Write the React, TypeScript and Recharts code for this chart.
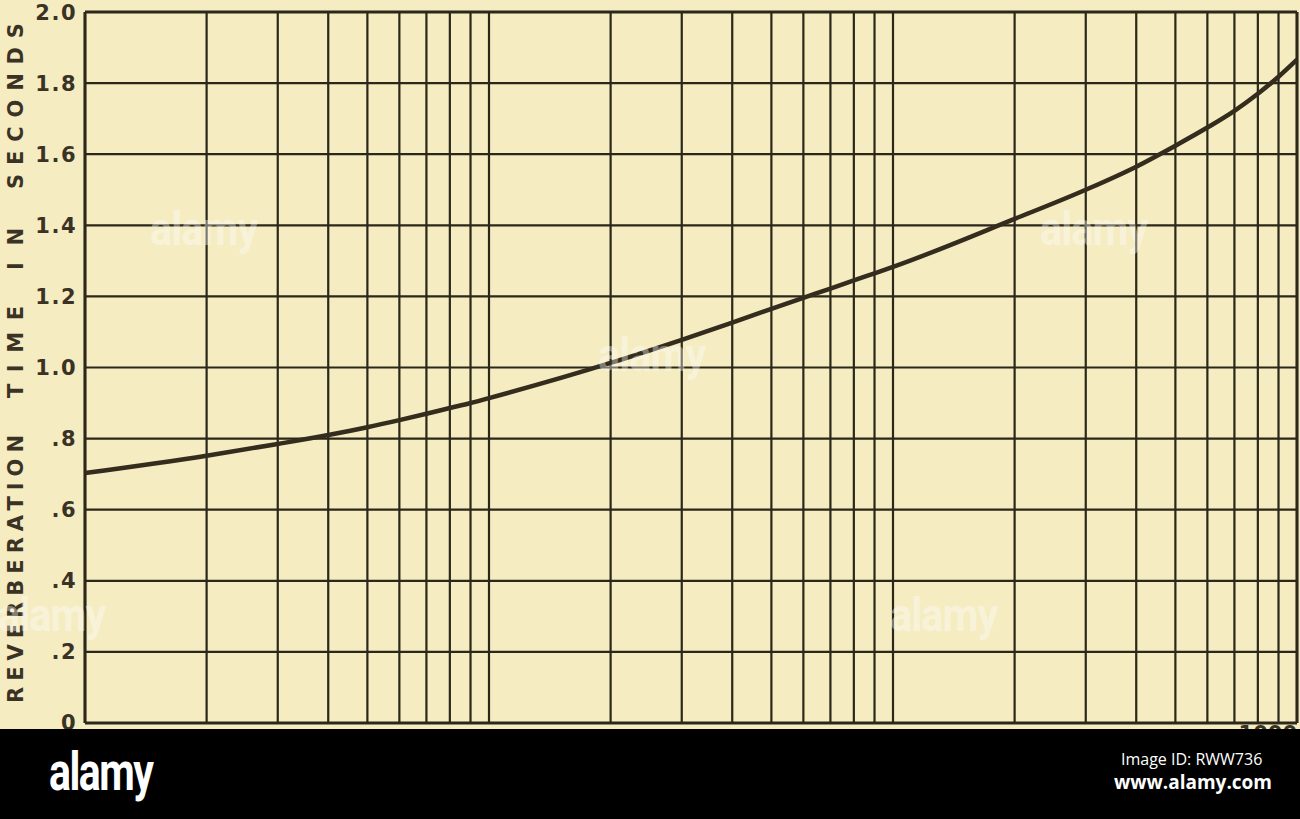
import { LineChart, Line, XAxis, YAxis, CartesianGrid, ReferenceLine } from 'recharts'

// room volume (log scale) vs reverberation time
const volumes = [1, 2, 3, 4, 5, 6, 7, 8, 9, 10, 20, 30, 40, 50, 60, 70, 80, 90, 100, 200, 300, 400, 500, 600, 700, 800, 900, 1000]
const reverbTimes = [
  0.703, 0.752, 0.785, 0.81, 0.832, 0.852, 0.87, 0.886, 0.9, 0.914,
  1.013, 1.078, 1.126, 1.165, 1.196, 1.222, 1.245, 1.265, 1.283,
  1.418, 1.5, 1.565, 1.624, 1.675, 1.722, 1.77, 1.818, 1.866,
]

const gridTicks = [1, 2, 3, 4, 5, 6, 7, 8, 9, 10, 20, 30, 40, 50, 60, 70, 80, 90, 100, 200, 300, 400, 500, 600, 700, 800, 900, 1000]
const xLabelTicks = [1000]
const xLabelText = ['1000']

const yTicks = [0, 0.2, 0.4, 0.6, 0.8, 1.0, 1.2, 1.4, 1.6, 1.8, 2.0]
const yLabels = ['0', '.2', '.4', '.6', '.8', '1.0', '1.2', '1.4', '1.6', '1.8', '2.0']

// title words, spread along the left edge like the printed label
const titleWords = ['REVERBERATION', 'TIME', 'IN', 'SECONDS']
const titleCenters = [569, 352, 249, 106]
const titleLengths = [268, 92, 42, 166]

const data = volumes.map((v, i) => ({ volume: v, time: reverbTimes[i] }))

const PAPER = '#f5ecc2'
const INK = '#2b2719'
const TEXT = '#3a3325'
const FONT = '"DejaVu Sans", "Noto Sans", sans-serif'

const XTick = ({ x, y, payload }: any) => {
  const i = xLabelTicks.indexOf(payload.value)
  if (i < 0) return <g />
  return (
    <text x={x} y={y + 10} textAnchor="end" fill={TEXT} fontSize={21} fontWeight="bold" fontFamily={FONT}>
      {xLabelText[i]}
    </text>
  )
}

const watermarks = [
  { left: 150, top: 206 },
  { left: 598, top: 332 },
  { left: 1040, top: 206 },
  { left: 890, top: 592 },
  { left: -2, top: 592 },
]

export default function App() {
  return (
    <div style={{ position: 'absolute', left: 0, top: 0, width: 1300, height: 819, background: PAPER, overflow: 'hidden' }}>
      <LineChart width={1300} height={819} data={data} margin={{ top: 12, right: 3, left: 0, bottom: 66 }}>
        <CartesianGrid stroke={INK} strokeWidth={2.2} />
        <XAxis
          dataKey="volume"
          type="number"
          scale="log"
          domain={[1, 1000]}
          ticks={gridTicks}
          interval={0}
          height={30}
          tickLine={false}
          axisLine={false}
          tick={<XTick />}
        />
        <YAxis
          type="number"
          domain={[0, 2]}
          ticks={yTicks}
          width={85}
          tickLine={false}
          axisLine={false}
          tickFormatter={(v: number) => yLabels[yTicks.indexOf(v)]}
          tick={{ fill: TEXT, fontSize: 21, fontWeight: 'bold', fontFamily: FONT, letterSpacing: 1.5 }}
        />
        <ReferenceLine x={1} stroke={INK} strokeWidth={3} />
        <ReferenceLine x={1000} stroke={INK} strokeWidth={3} />
        <ReferenceLine y={0} stroke={INK} strokeWidth={3} />
        <ReferenceLine y={2} stroke={INK} strokeWidth={3} />
        <Line
          type="monotone"
          dataKey="time"
          stroke="#342c1d"
          strokeWidth={4.5}
          dot={false}
          isAnimationActive={false}
        />
      </LineChart>

      <svg width={40} height={729} style={{ position: 'absolute', left: 0, top: 0 }}>
        {titleWords.map((w, i) => (
          <text
            key={w}
            x={16}
            y={titleCenters[i]}
            transform={`rotate(-90 16 ${titleCenters[i]})`}
            textAnchor="middle"
            dominantBaseline="central"
            textLength={titleLengths[i]}
            lengthAdjust="spacing"
            fill={TEXT}
            fontSize={21}
            fontWeight="bold"
            fontFamily={FONT}
          >
            {w}
          </text>
        ))}
      </svg>

      {watermarks.map((w, i) => (
        <div
          key={i}
          style={{
            position: 'absolute',
            left: w.left,
            top: w.top,
            color: 'rgba(255,255,255,0.4)',
            fontFamily: '"Roboto", "Liberation Sans", sans-serif',
            fontWeight: 700,
            fontSize: 46,
            letterSpacing: -1,
            lineHeight: 1,
            transform: 'scaleX(0.9)',
            transformOrigin: 'left top',
          }}
        >
          alamy
        </div>
      ))}

      <div style={{ position: 'absolute', left: 0, top: 729, width: 1300, height: 90, background: '#000' }}>
        <div
          style={{
            position: 'absolute',
            left: 49,
            top: 16,
            color: '#fff',
            fontFamily: '"Roboto", "Liberation Sans", sans-serif',
            fontWeight: 700,
            fontSize: 54,
            letterSpacing: -2,
            lineHeight: 1,
            transform: 'scaleX(0.76)',
            transformOrigin: 'left top',
          }}
        >
          alamy
        </div>
        <div
          style={{
            position: 'absolute',
            left: 1121,
            top: 22,
            color: '#fff',
            fontFamily: '"Open Sans", "DejaVu Sans", sans-serif',
            fontSize: 16,
            lineHeight: 1,
          }}
        >
          Image ID: RWW736
        </div>
        <div
          style={{
            position: 'absolute',
            left: 1114,
            top: 44,
            color: '#fff',
            fontFamily: '"Open Sans", "DejaVu Sans", sans-serif',
            fontWeight: 700,
            fontSize: 19,
            lineHeight: 1,
          }}
        >
          www.alamy.com
        </div>
      </div>
    </div>
  )
}
